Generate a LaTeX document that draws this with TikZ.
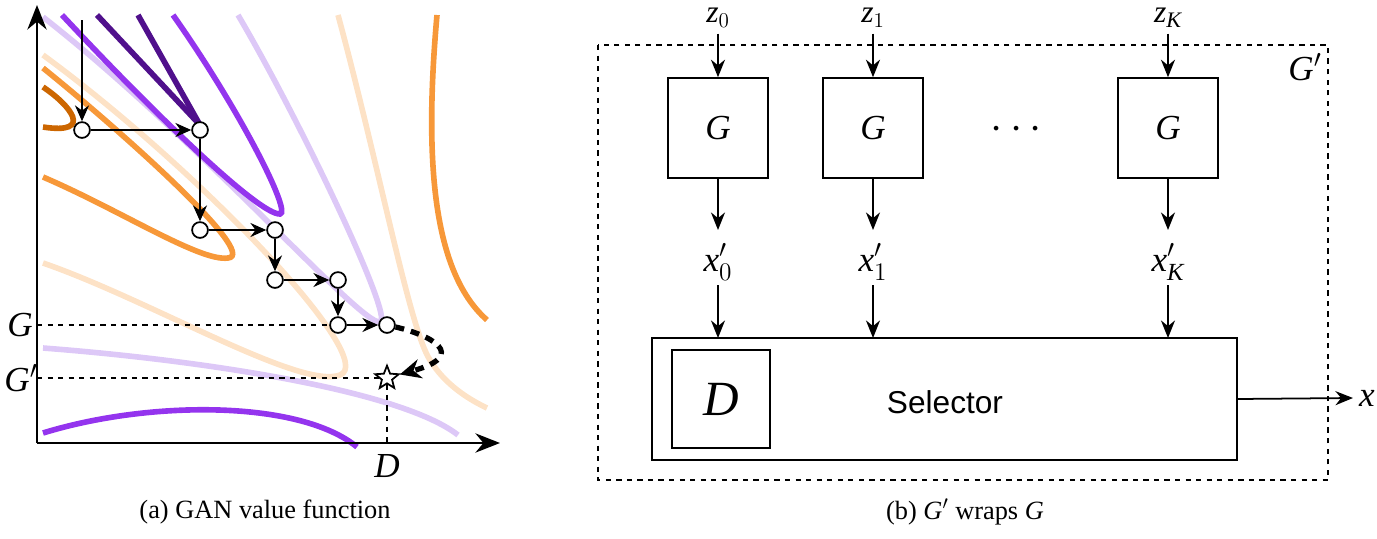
\documentclass[tikz,border=0pt]{standalone}
\usepackage{amsmath}
\usepackage{fontspec}
\setmainfont{Liberation Serif}
\newfontfamily\sfsel{Liberation Sans}
\usepackage{tikz}
\usetikzlibrary{arrows.meta,shapes.geometric}
\definecolor{ora}{RGB}{247,152,57}
\definecolor{lora}{RGB}{253,226,198}
\definecolor{dora}{RGB}{204,102,0}
\definecolor{pur}{RGB}{148,52,238}
\definecolor{lpur}{RGB}{221,200,247}
\definecolor{dpur}{RGB}{80,16,140}
\newcommand\mv[1]{\textit{#1}}
\tikzset{
  cont/.style={line width=3.2pt, line cap=butt},
  dot/.style={circle, draw, fill=white, line width=1pt, inner sep=0pt, minimum size=9pt},
  move/.style={-{Stealth[length=9pt,width=8pt]}, line width=1pt},
  blk/.style={draw, line width=0.9pt, minimum size=2cm, font=\fontsize{20}{20}\selectfont},
  flow/.style={-{Stealth[length=10pt,width=8pt]}, line width=1pt},
  lbl/.style={font=\fontsize{20}{20}\selectfont},
}
\begin{document}
\begin{tikzpicture}[x=0.02cm,y=-0.02cm]
\useasboundingbox (0,0) rectangle (1377,538);
% contours
\draw[cont, lora] (43,55) .. controls (200,170) and (380,360) .. (340,375) .. controls (300,390) and (150,300) .. (43,263);
\draw[cont, lora] (338,15) .. controls (380,170) and (410,330) .. (430,360) .. controls (445,385) and (470,400) .. (487,408);
\draw[cont, lpur] (43,17) .. controls (200,140) and (360,325) .. (380,322) .. controls (395,320) and (300,120) .. (238,15);
\draw[cont, lpur] (43,348) .. controls (200,360) and (400,390) .. (458,435);
\draw[cont, ora] (43,68) .. controls (120,130) and (260,255) .. (228,258) .. controls (200,262) and (120,210) .. (43,177);
\draw[cont, ora] (437,15) .. controls (425,150) and (430,270) .. (487,320);
\draw[cont, dora] (43,87) .. controls (70,105) and (95,135) .. (43,127);
\draw[cont, pur] (62,15) .. controls (160,120) and (260,215) .. (280,214) .. controls (292,213) and (240,110) .. (173,15);
\draw[cont, dpur] (97,15) -- (200,125);
\draw[cont, dpur] (138,15) -- (200,125);
\draw[cont, pur] (43,433) .. controls (150,400) and (300,400) .. (357,447);
% axes
\draw[-{Stealth[length=14pt,width=11pt]}, line width=1.2pt] (37,443) -- (37,5);
\draw[-{Stealth[length=14pt,width=11pt]}, line width=1.2pt] (37,443) -- (500,443);
% path of updates
\node[dot] (p1) at (82,130) {};
\node[dot] (p2) at (200,130) {};
\node[dot] (p3) at (200,230) {};
\node[dot] (p4) at (275,230) {};
\node[dot] (p5) at (275,280) {};
\node[dot] (p6) at (338,280) {};
\node[dot] (p7) at (338,325) {};
\node[dot] (p8) at (387,325) {};
\node[star, star points=5, star point ratio=2.3, draw, fill=white, line width=1pt, inner sep=0pt, minimum size=14pt] (s) at (387,378) {};
\coordinate (st) at (82,20);
\draw[move] (st) -- (p1);
\draw[move] (p1) -- (p2);
\draw[move] (p2) -- (p3);
\draw[move] (p3) -- (p4);
\draw[move] (p4) -- (p5);
\draw[move] (p5) -- (p6);
\draw[move] (p6) -- (p7);
\draw[move] (p7) -- (p8);
\draw[line width=3pt, dash pattern=on 5pt off 4pt, -{Stealth[length=12pt,width=11pt]}] (p8) .. controls (430,335) and (470,355) .. (s);
% projections
\node[lbl] (lg) at (20,325) {\mv{G}};
\node[lbl] (lgp) at (21,378) {\mv{G}$'$};
\node[lbl] (ld) at (387,466) {\mv{D}};
\draw[dashed, line width=0.9pt] (37,325) -- (p7);
\draw[dashed, line width=0.9pt] (37,378) -- (s);
\draw[dashed, line width=0.9pt] (s) -- (387,443);
\node[font=\fontsize{15}{15}\selectfont] (capa) at (265,512) {(a) GAN value function};
% right panel
\draw[dashed, line width=1pt] (598,45) rectangle (1328,480);
\node[lbl] (gp) at (1305,67) {\mv{G}$'$};
\foreach \i/\x/\s in {0/718/0, 1/873/1, K/1168/\mv{K}} {
  \node[font=\fontsize{18}{18}\selectfont] (z\i) at (\x,18) {\mv{z}$_{\s}$};
  \node[blk] (g\i) at (\x,128) {\mv{G}};
  \node[lbl] (x\i) at (\x,262) {\mv{x}$'_{\s}$};
  \draw[flow] (z\i.south) -- (g\i);
  \draw[flow] (g\i) -- (\x,230);
  \draw[flow] (\x,285) -- (\x,338);
}
\node[font=\fontsize{26}{26}\selectfont] (dots) at (1020,130) {$\cdots$};
\node[draw, line width=0.9pt, minimum width=11.7cm, minimum height=2.44cm] (sel) at (944.5,399) {};
\node[font=\sfsel\fontsize{18}{18}\selectfont] (seltxt) at (945,402) {Selector};
\node[draw, line width=0.9pt, minimum size=1.96cm, font=\fontsize{28}{28}\selectfont] (d) at (721,399) {\mv{D}};
\node[lbl] (xo) at (1367,398) {\mv{x}};
\draw[flow] (sel.east) -- (xo.west);
\node[font=\fontsize{15}{15}\selectfont] (capb) at (965,512) {(b) \mv{G}$'$ wraps \mv{G}};
\end{tikzpicture}
\end{document}
